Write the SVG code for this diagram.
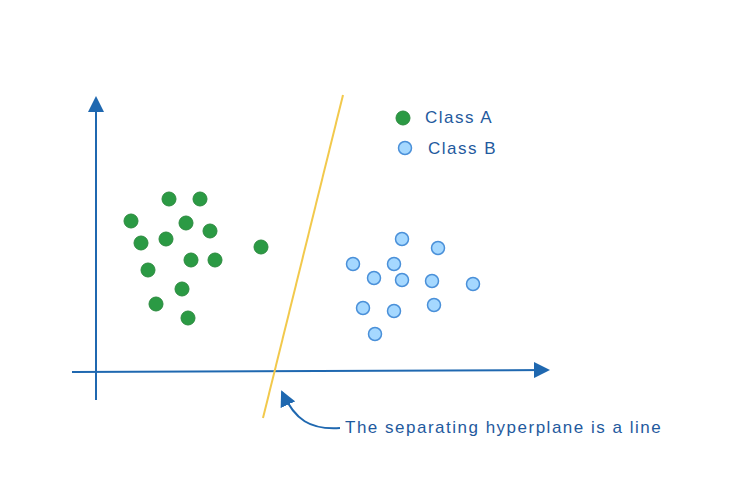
<svg xmlns="http://www.w3.org/2000/svg" width="735" height="494" viewBox="0 0 735 494">
<style>
.a{fill:#2b9a44;stroke:#2b8a3e;stroke-width:1}
.b{fill:#a5d8ff;stroke:#4a90d9;stroke-width:1.5}
.ax{stroke:#1f68b0;stroke-width:2;fill:none}
.t{font-family:"Liberation Sans",sans-serif;fill:#1f5a9e;font-size:17px;letter-spacing:1.5px}
</style>
<defs>
<marker id="ah2" markerWidth="16" markerHeight="16" refX="14" refY="8" orient="auto" markerUnits="userSpaceOnUse"><path d="M0,0 L16,8 L0,16 Z" fill="#1f68b0"/></marker>
</defs>
<rect width="735" height="494" fill="#fff"/>
<g id="connectors">
<line class="ax" x1="96" y1="400" x2="96" y2="98" marker-end="url(#ah2)"/>
<line class="ax" x1="72" y1="372" x2="548" y2="370" marker-end="url(#ah2)"/>
<line x1="343" y1="95" x2="263" y2="418" stroke="#f2c94c" stroke-width="2"/>
<path class="ax" d="M340,428 C310,430 295,420 282,392" marker-end="url(#ah2)"/>
</g>
<g id="classA">
<circle class="a" cx="169" cy="199" r="7"/><circle class="a" cx="200" cy="199" r="7"/>
<circle class="a" cx="131" cy="221" r="7"/><circle class="a" cx="186" cy="223" r="7"/>
<circle class="a" cx="210" cy="231" r="7"/><circle class="a" cx="141" cy="243" r="7"/>
<circle class="a" cx="166" cy="239" r="7"/><circle class="a" cx="191" cy="260" r="7"/>
<circle class="a" cx="215" cy="260" r="7"/><circle class="a" cx="148" cy="270" r="7"/>
<circle class="a" cx="182" cy="289" r="7"/><circle class="a" cx="156" cy="304" r="7"/>
<circle class="a" cx="188" cy="318" r="7"/><circle class="a" cx="261" cy="247" r="7"/>
</g>
<g id="classB">
<circle class="b" cx="402" cy="239" r="6.5"/><circle class="b" cx="438" cy="248" r="6.5"/>
<circle class="b" cx="353" cy="264" r="6.5"/><circle class="b" cx="394" cy="264" r="6.5"/>
<circle class="b" cx="374" cy="278" r="6.5"/><circle class="b" cx="402" cy="280" r="6.5"/>
<circle class="b" cx="432" cy="281" r="6.5"/><circle class="b" cx="473" cy="284" r="6.5"/>
<circle class="b" cx="363" cy="308" r="6.5"/><circle class="b" cx="394" cy="311" r="6.5"/>
<circle class="b" cx="434" cy="305" r="6.5"/><circle class="b" cx="375" cy="334" r="6.5"/>
</g>
<g id="legend">
<circle class="a" cx="403" cy="118" r="7"/>
<text class="t" x="425" y="123">Class A</text>
<circle class="b" cx="405" cy="148" r="6.5"/>
<text class="t" x="428" y="154">Class B</text>
</g>
<g id="note">
<text class="t" x="345" y="433">The separating hyperplane is a line</text>
</g>
</svg>
